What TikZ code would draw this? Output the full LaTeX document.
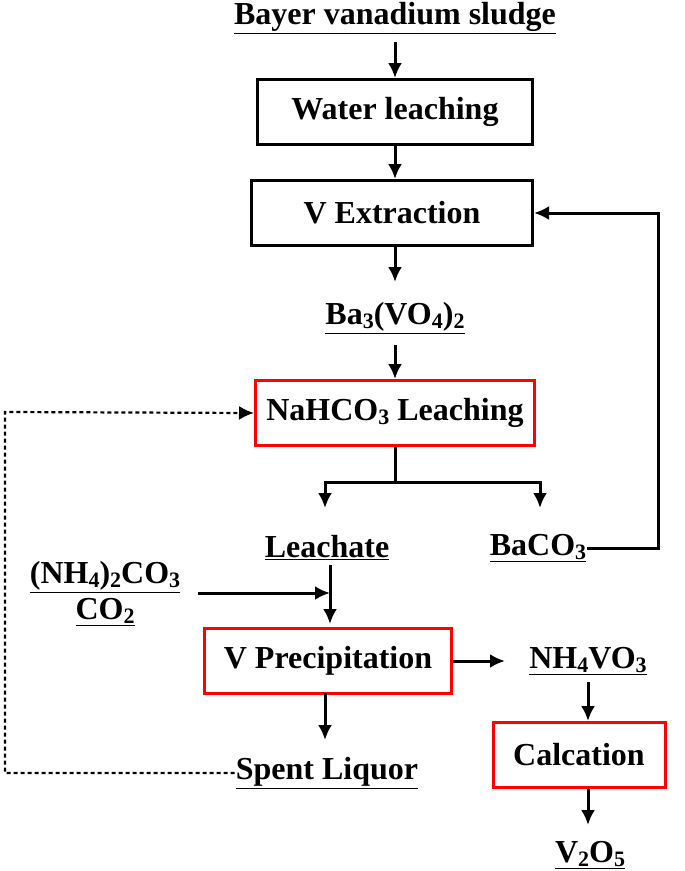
\documentclass[tikz,border=0pt]{standalone}
\usepackage{fontspec}
\setmainfont{Liberation Serif}
\usetikzlibrary{arrows.meta}
\newcommand{\sbs}[1]{\raisebox{-0.12em}{\fontsize{22}{24}\selectfont #1}}
\begin{document}
\begin{tikzpicture}[x=1pt,y=-1pt,
  every node/.style={font=\fontsize{32}{36}\selectfont\bfseries},
  blk/.style={draw=black,line width=3pt,minimum width=#1,minimum height=65pt,inner sep=0pt},
  rbox/.style={draw=red,line width=3pt,minimum width=#1,minimum height=65pt,inner sep=0pt},
  lbl/.style={inner sep=1pt},
  ar/.style={line width=3pt,-{Latex[length=15pt,width=14pt]}},
  ln/.style={line width=3pt}]
\useasboundingbox (0,0) rectangle (685,871);
\node[lbl] (t) at (395,18) {\underline{Bayer vanadium sludge}};
\node[blk=275pt] (w) at (395,112) {Water leaching};
\node[blk=281pt] (v) at (392,213) {V Extraction};
\node[lbl] (ba) at (395,318) {\underline{Ba\sbs{3}(VO\sbs{4})\sbs{2}}};
\node[rbox=279pt] (na) at (395,413) {NaHCO\sbs{3} Leaching};
\node[lbl] (le) at (327,548) {\underline{Leachate}};
\node[lbl] (bc) at (538,548) {\underline{BaCO\sbs{3}}};
\node[lbl] (nh) at (105,577) {\underline{(NH\sbs{4})\sbs{2}CO\sbs{3}}};
\node[lbl] (co) at (105,612) {\underline{CO\sbs{2}}};
\node[rbox=247pt] (vp) at (328,661) {V Precipitation};
\node[lbl] (am) at (588,661) {\underline{NH\sbs{4}VO\sbs{3}}};
\node[rbox=172pt] (ca) at (579,755) {Calcation};
\node[lbl] (vo) at (590,855) {\underline{V\sbs{2}O\sbs{5}}};
\node[lbl] (sl) at (327,773) {\underline{Spent Liquor}};
\coordinate (j) at (395,482);
\draw[ar] (395,42) -- (w.north);
\draw[ar] (w.south) -- (w.south |- v.north);
\draw[ar] (395,245) -- (395,282);
\draw[ar] (395,345) -- (na.north);
\draw[ln] (na.south) -- (j);
\draw[ln] (323.5,482) -- (541.5,482);
\draw[ar] (325,481) -- (325,508);
\draw[ar] (540,481) -- (540,508);
\draw[ln,-{Latex[length=15pt,width=14pt]}] (bc.east) -- (658,548) -- (658,213) -- (v.east);
\draw[ar] (198,593) -- (330,593);
\draw[ar] (330,565) -- (330,624);
\draw[ar] (vp.east) -- (505,661);
\draw[ar] (588,682) -- (ca.north -| 588,0);
\draw[ar] (ca.south -| 588,0) -- (588,825);
\draw[ar] (325,693) -- (325,740);
\draw[line width=2.2pt,dash pattern=on 4pt off 3pt,-{Latex[length=15pt,width=14pt]}] (sl.west) -- (5,773) -- (5,412) -- (na.west);
\end{tikzpicture}
\end{document}
